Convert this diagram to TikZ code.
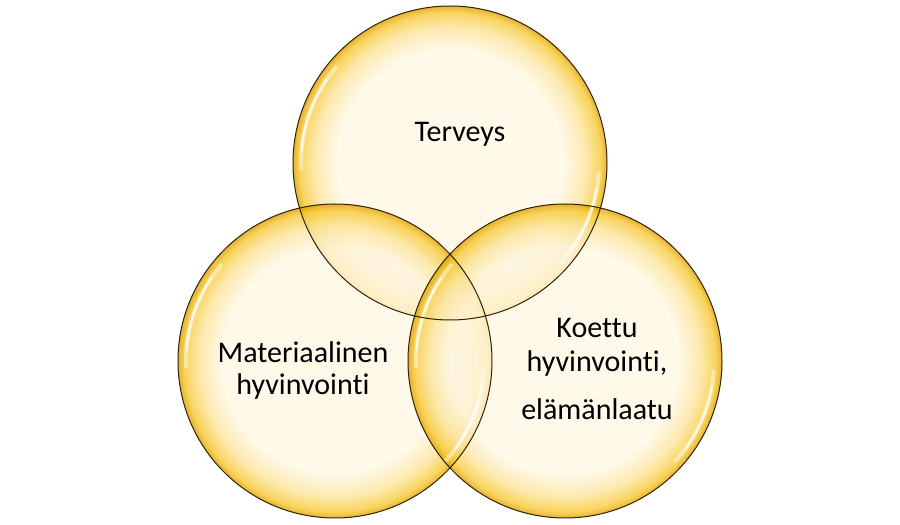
\documentclass[tikz,border=0pt]{standalone}
\usepackage{fontspec}
\setmainfont{Carlito}[Ligatures=CommonOff]
\usepackage{xcolor}
\usepackage{tikz}
\usetikzlibrary{calc}
\definecolor{vcream}{HTML}{FFF7E3}
\definecolor{vgold}{HTML}{F7C935}
\definecolor{vdeep}{HTML}{E0A000}
\definecolor{vline}{HTML}{2E2206}
\pgfdeclareradialshading{venngold}{\pgfpointorigin}{%
  color(0bp)=(vcream); color(18bp)=(vcream); color(21.5bp)=(vgold!40!vcream);
  color(24bp)=(vgold); color(25bp)=(vdeep); color(50bp)=(vdeep)}
\tikzset{
  disc/.style={shading=venngold,fill opacity=0.8,draw=none},
  rim/.style={draw=vline,line width=1pt},
  glint/.style={white,line width=4pt,line cap=round,opacity=0.45},
  glintc/.style={white,line width=1.6pt,line cap=round,opacity=0.85},
  lbl/.style={font=\fontsize{30}{32}\selectfont,anchor=base,inner sep=0pt}
}
\begin{document}
\begin{tikzpicture}[x=1pt,y=1pt]
\useasboundingbox (0,0) rectangle (900,525);
\coordinate (ct) at (450,362);
\coordinate (cl) at (335,164);
\coordinate (cr) at (565,164);
% discs
\foreach \c in {ct,cl,cr}{\shade[disc] (\c) circle[radius=157];}
% glossy highlights
\foreach \c in {ct,cl,cr}{
  \draw[glint] (\c) ++(140:149) arc[start angle=140,end angle=182,radius=149];
  \draw[glintc] (\c) ++(146:149) arc[start angle=146,end angle=176,radius=149];
  \draw[glint] (\c) ++(-42:149) arc[start angle=-42,end angle=-4,radius=149];
  \draw[glintc] (\c) ++(-36:149) arc[start angle=-36,end angle=-10,radius=149];
}
\foreach \c in {ct,cl,cr}{\draw[rim] (\c) circle[radius=157];}
% labels
\node[lbl] (terveys) at (460,383) {Terveys};
\node[lbl] (mat1) at (303,162) {Materiaalinen};
\node[lbl] (mat2) at (303,130) {hyvinvointi};
\node[lbl] (koe1) at (597,187) {Koettu};
\node[lbl] (koe2) at (597,153) {hyvinvointi,};
\node[lbl] (koe3) at (597,105) {elämänlaatu};
\end{tikzpicture}
\end{document}
